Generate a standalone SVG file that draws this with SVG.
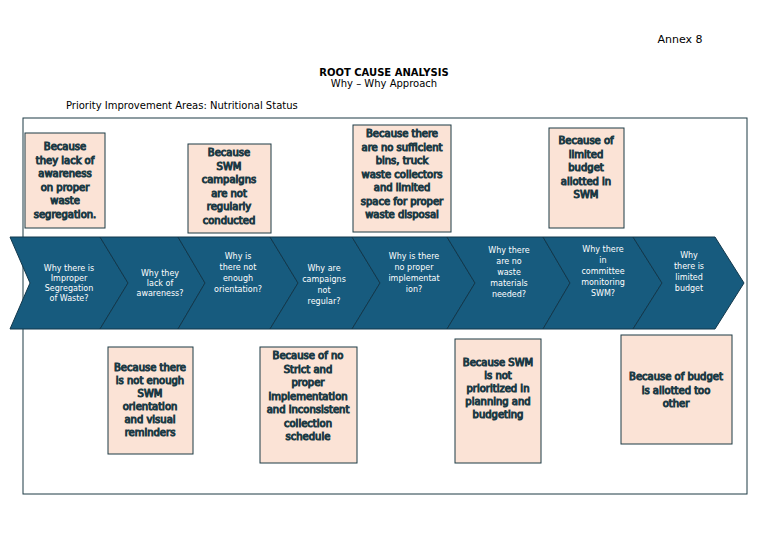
<svg xmlns="http://www.w3.org/2000/svg" width="768" height="543" viewBox="0 0 768 543">
<style>
text{font-family:"DejaVu Sans","Liberation Sans",sans-serif;fill:#000}
.b{fill:#fbe3d6;stroke:#1d3b45;stroke-width:1}
.b text{font-size:10px;text-anchor:middle}
.c{fill:#175b7e;stroke:#12384c;stroke-width:1}
.ct{font-size:8px;fill:#fff;text-anchor:middle}
</style>
<rect width="768" height="543" fill="#fff"/>
<text x="680" y="43" font-size="11" text-anchor="middle">Annex 8</text>
<text x="384" y="76" font-size="10" font-weight="bold" text-anchor="middle">ROOT CAUSE ANALYSIS</text>
<text x="384" y="87" font-size="10" text-anchor="middle">Why – Why Approach</text>
<text x="66" y="109" font-size="10">Priority Improvement Areas: Nutritional Status</text>
<rect x="23" y="118" width="724" height="376" fill="none" stroke="#1d3b45"/>
<g id="chevrons">
<g id="c1"><path class="c" d="M10 237H100L128 283L100 329H10L30 283Z"/><text class="ct" y="271"><tspan x="69">Why there is</tspan><tspan x="69" dy="10">Improper</tspan><tspan x="69" dy="10">Segregation</tspan><tspan x="69" dy="10">of Waste?</tspan></text></g>
<g id="c2"><path class="c" d="M100 237H178L205 283L178 329H100L128 283Z" stroke="#ccc"/><text class="ct" y="276"><tspan x="160">Why they</tspan><tspan x="160" dy="10">lack of</tspan><tspan x="160" dy="10">awareness?</tspan></text></g>
<g id="c3"><path class="c" d="M178 237H270L298 283L270 329H178L205 283Z"/><text class="ct" y="259"><tspan x="238">Why is</tspan><tspan x="238" dy="11">there not</tspan><tspan x="238" dy="11">enough</tspan><tspan x="238" dy="11">orientation?</tspan></text></g>
<g id="c4"><path class="c" d="M270 237H352L380 283L352 329H270L298 283Z"/><text class="ct" y="271"><tspan x="324">Why are</tspan><tspan x="324" dy="11">campaigns</tspan><tspan x="324" dy="11">not</tspan><tspan x="324" dy="11">regular?</tspan></text></g>
<g id="c5"><path class="c" d="M352 237H447L475 283L447 329H352L380 283Z"/><text class="ct" y="259"><tspan x="414">Why is there</tspan><tspan x="414" dy="11">no proper</tspan><tspan x="414" dy="11">implementat</tspan><tspan x="414" dy="11">ion?</tspan></text></g>
<g id="c6"><path class="c" d="M447 237H543L570 283L543 329H447L475 283Z"/><text class="ct" y="253"><tspan x="509">Why there</tspan><tspan x="509" dy="11">are no</tspan><tspan x="509" dy="11">waste</tspan><tspan x="509" dy="11">materials</tspan><tspan x="509" dy="11">needed?</tspan></text></g>
<g id="c7"><path class="c" d="M543 237H633L662 283L633 329H543L570 283Z" stroke="#ccc"/><text class="ct" y="252"><tspan x="603">Why there</tspan><tspan x="603" dy="11">in</tspan><tspan x="603" dy="11">committee</tspan><tspan x="603" dy="11">monitoring</tspan><tspan x="603" dy="11">SWM?</tspan></text></g>
<g id="c8"><path class="c" d="M633 237H715L744 283L715 329H633L662 283Z"/><text class="ct" y="258"><tspan x="689">Why</tspan><tspan x="689" dy="11">there is</tspan><tspan x="689" dy="11">limited</tspan><tspan x="689" dy="11">budget</tspan></text></g>
</g>
<g id="t1" class="b"><rect x="25" y="133" width="80" height="95"/><text y="150"><tspan x="65">Because</tspan><tspan x="65" dy="13.5">they lack of</tspan><tspan x="65" dy="13.5">awareness</tspan><tspan x="65" dy="13.5">on proper</tspan><tspan x="65" dy="13.5">waste</tspan><tspan x="65" dy="13.5">segregation.</tspan></text></g>
<g id="t2" class="b"><rect x="188" y="144" width="83" height="89"/><text y="156"><tspan x="229">Because</tspan><tspan x="229" dy="13.5">SWM</tspan><tspan x="229" dy="13.5">campaigns</tspan><tspan x="229" dy="13.5">are not</tspan><tspan x="229" dy="13.5">regularly</tspan><tspan x="229" dy="13.5">conducted</tspan></text></g>
<g id="t3" class="b"><rect x="353" y="125" width="98" height="107"/><text y="137"><tspan x="402">Because there</tspan><tspan x="402" dy="13.5">are no sufficient</tspan><tspan x="402" dy="13.5">bins, truck</tspan><tspan x="402" dy="13.5">waste collectors</tspan><tspan x="402" dy="13.5">and limited</tspan><tspan x="402" dy="13.5">space for proper</tspan><tspan x="402" dy="13.5">waste disposal</tspan></text></g>
<g id="t4" class="b"><rect x="549" y="128" width="75" height="100"/><text y="144"><tspan x="586">Because of</tspan><tspan x="586" dy="13.5">limited</tspan><tspan x="586" dy="13.5">budget</tspan><tspan x="586" dy="13.5">allotted in</tspan><tspan x="586" dy="13.5">SWM</tspan></text></g>
<g id="b1" class="b"><rect x="108" y="347" width="85" height="107"/><text y="371"><tspan x="150">Because there</tspan><tspan x="150" dy="13">is not enough</tspan><tspan x="150" dy="13">SWM</tspan><tspan x="150" dy="13">orientation</tspan><tspan x="150" dy="13">and visual</tspan><tspan x="150" dy="13">reminders</tspan></text></g>
<g id="b2" class="b"><rect x="260" y="347" width="97" height="116"/><text y="359"><tspan x="308">Because of no</tspan><tspan x="308" dy="13.5">Strict and</tspan><tspan x="308" dy="13.5">proper</tspan><tspan x="308" dy="13.5">implementation</tspan><tspan x="308" dy="13.5">and inconsistent</tspan><tspan x="308" dy="13.5">collection</tspan><tspan x="308" dy="13.5">schedule</tspan></text></g>
<g id="b3" class="b"><rect x="455" y="339" width="86" height="124"/><text y="366"><tspan x="498">Because SWM</tspan><tspan x="498" dy="13">is not</tspan><tspan x="498" dy="13">prioritized in</tspan><tspan x="498" dy="13">planning and</tspan><tspan x="498" dy="13">budgeting</tspan></text></g>
<g id="b4" class="b"><rect x="621" y="335" width="111" height="109"/><text y="380"><tspan x="676">Because of budget</tspan><tspan x="676" dy="13.5">is allotted too</tspan><tspan x="676" dy="13.5">other</tspan></text></g>
</svg>
